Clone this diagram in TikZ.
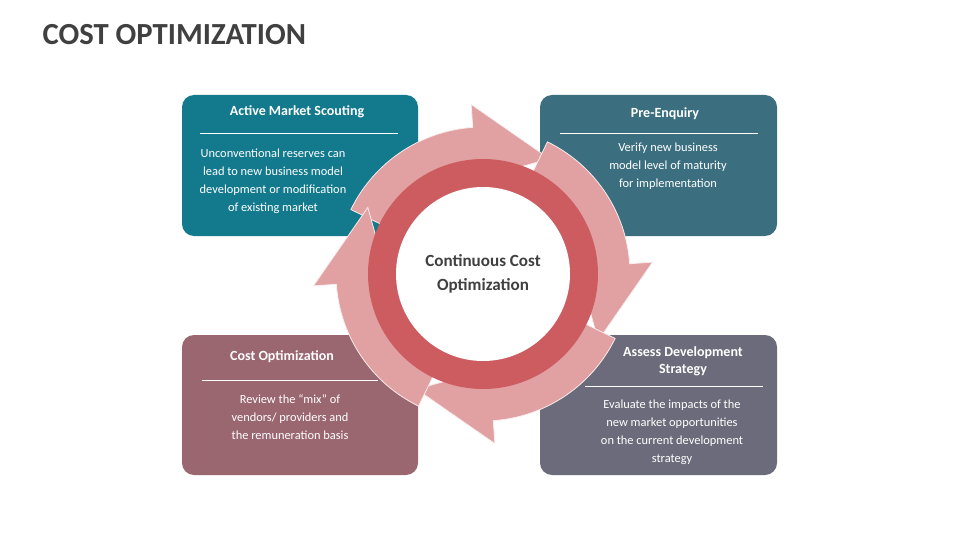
\documentclass[tikz,border=0pt]{standalone}
\usepackage{fontspec}
\setmainfont{Carlito}
\usetikzlibrary{calc}
\definecolor{tl}{HTML}{13798D}
\definecolor{tr}{HTML}{3B6F80}
\definecolor{bl}{HTML}{9A6670}
\definecolor{br}{HTML}{6B6B7B}
\definecolor{arrowc}{HTML}{E1A0A2}
\definecolor{ringc}{HTML}{CD5C61}
\definecolor{titc}{HTML}{404040}
\tikzset{
 card/.style={rounded corners=9pt,draw=none},
 ctitle/.style={text=white,font=\bfseries\fontsize{10.5}{13}\selectfont,align=center},
 ctext/.style={text=white,font=\fontsize{9.3}{13.5}\selectfont,align=center},
 sep/.style={white,line width=0.5pt},
 arr/.style={fill=arrowc,draw=white!80!arrowc,line width=0.6pt}
}
\begin{document}
\begin{tikzpicture}[x=0.75pt,y=0.75pt]
\useasboundingbox (0,0) rectangle (960,540);
\node[anchor=west,text=titc,font=\bfseries\fontsize{23}{26}\selectfont] (title) at (38,505) {COST OPTIMIZATION};
% cards
\fill[card,tl] (182,304) rectangle (418,445);
\fill[card,tr] (540,304) rectangle (777,445);
\fill[card,bl] (182,65) rectangle (418,205);
\fill[card,br] (540,65) rectangle (777,205);
\node[ctitle] (t1) at (297,428) {Active Market Scouting};
\draw[sep] (200,407) -- (398,407);
\node[ctext] (b1) at (273,359) {Unconventional reserves can\\lead to new business model\\development or modification\\of existing market};
\node[ctitle] (t2) at (665,426) {Pre-Enquiry};
\draw[sep] (560,407) -- (758,407);
\node[ctext] (b2) at (668,374) {Verify new business\\model level of maturity\\for implementation};
\node[ctitle] (t3) at (282,183) {Cost Optimization};
\draw[sep] (202,160) -- (378,160);
\node[ctext] (b3) at (290,123) {Review the “mix” of\\vendors/ providers and\\the remuneration basis};
\node[ctitle] (t4) at (683,179) {Assess Development\\Strategy};
\draw[sep] (585,154) -- (763,154);
\node[ctext] (b4) at (672,108) {Evaluate the impacts of the\\new market opportunities\\on the current development\\strategy};
% arrows
\coordinate (C) at (483,266);
\foreach \r in {0,-90,-180,-270}{
 \filldraw[arr] ($(C)+(154+\r:147)$) arc[start angle=154+\r,end angle=94+\r,radius=147]
   -- ($(C)+(94+\r:170)$) -- ($(C)+(60+\r:133)$) -- ($(C)+(94+\r:95)$)
   -- ($(C)+(94+\r:110)$) arc[start angle=94+\r,end angle=154+\r,radius=110] -- cycle;
}
\fill[ringc] (C) circle (115);
\fill[white] (C) circle (87);
\node[align=center,text=titc,font=\bfseries\fontsize{12.8}{17.5}\selectfont] (center) at (C) {Continuous Cost\\Optimization};
\end{tikzpicture}
\end{document}
